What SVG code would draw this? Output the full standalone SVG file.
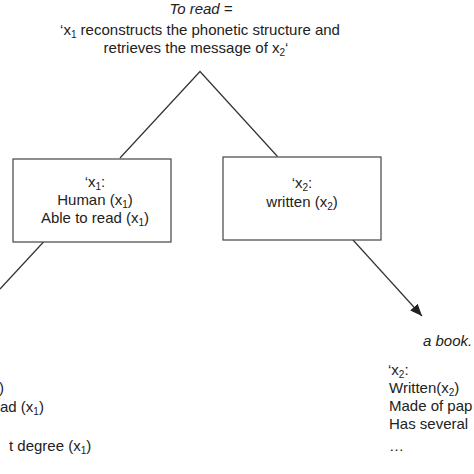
<svg xmlns="http://www.w3.org/2000/svg" width="474" height="474" viewBox="0 0 474 474">
<defs>
<style>
text{font-family:"Liberation Sans",Arial,sans-serif;font-size:15px;fill:#222}
.it{font-style:italic}
.mid{text-anchor:middle}
.sub{font-size:10px}
.box{fill:#fff;stroke:#444;stroke-width:1.2}
.ln{stroke:#333;stroke-width:1.2;fill:none}
</style>
<marker id="ah" viewBox="0 0 12 10" refX="12" refY="5" markerWidth="12" markerHeight="10" markerUnits="userSpaceOnUse" orient="auto">
<path d="M0,0 L12,5 L0,10 Z" fill="#222"/>
</marker>
</defs>
<rect width="474" height="474" fill="#fff"/>
<g id="title">
<text class="it mid" x="201" y="14">To read =</text>
<text class="mid" x="200" y="35">‘x<tspan class="sub" dy="3">1</tspan><tspan dy="-3"> reconstructs the phonetic structure and</tspan></text>
<text class="mid" x="196" y="53">retrieves the message of x<tspan class="sub" dy="3">2</tspan><tspan dy="-3">‘</tspan></text>
</g>
<g id="connectors">
<polyline class="ln" points="120,158 200,71.5 277.5,156.5"/>
<line class="ln" x1="43.5" y1="242" x2="0" y2="289"/>
<line class="ln" x1="353" y1="240" x2="422" y2="316" marker-end="url(#ah)"/>
</g>
<g id="node-x1">
<rect class="box" x="13" y="159" width="158" height="83"/>
<text class="mid" x="95" y="187">‘x<tspan class="sub" dy="3">1</tspan><tspan dy="-3">:</tspan></text>
<text class="mid" x="95" y="205">Human (x<tspan class="sub" dy="3">1</tspan><tspan dy="-3">)</tspan></text>
<text class="mid" x="95" y="223">Able to read (x<tspan class="sub" dy="3">1</tspan><tspan dy="-3">)</tspan></text>
</g>
<g id="node-x2">
<rect class="box" x="223" y="157" width="158" height="83"/>
<text class="mid" x="302" y="188">‘x<tspan class="sub" dy="3">2</tspan><tspan dy="-3">:</tspan></text>
<text class="mid" x="302" y="207">written (x<tspan class="sub" dy="3">2</tspan><tspan dy="-3">)</tspan></text>
</g>
<g id="left-list">
<text x="-1" y="393">)</text>
<text x="0" y="412">ad (x<tspan class="sub" dy="3">1</tspan><tspan dy="-3">)</tspan></text>
<text x="9" y="451">t degree (x<tspan class="sub" dy="3">1</tspan><tspan dy="-3">)</tspan></text>
</g>
<g id="book">
<text class="it" x="423" y="346">a book.</text>
<text x="388" y="375">‘x<tspan class="sub" dy="3">2</tspan><tspan dy="-3">:</tspan></text>
<text x="389" y="393">Written(x<tspan class="sub" dy="3">2</tspan><tspan dy="-3">)</tspan></text>
<text x="389" y="411">Made of pap</text>
<text x="389" y="429">Has several</text>
<text x="389" y="451">…</text>
</g>
</svg>
